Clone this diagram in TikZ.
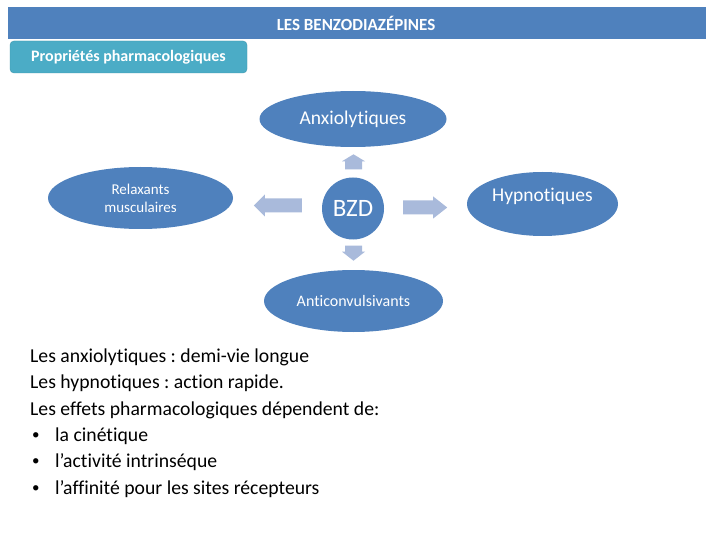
\documentclass[tikz,border=0pt]{standalone}
\usepackage{fontspec}
\setmainfont[Ligatures=NoCommon]{Carlito}
\usetikzlibrary{positioning}
\usetikzlibrary{calc}
\usetikzlibrary{shapes.geometric}
\definecolor{titleblue}{HTML}{4F81BD}
\definecolor{tealbox}{HTML}{4BACC6}
\definecolor{tealborder}{HTML}{3E97AE}
\colorlet{bubble}{titleblue}
\definecolor{arrowfill}{HTML}{A9BADB}
\newcommand\headhalf{11}
\newcommand\shafthalf{7}
\frenchspacing

\begin{document}
\begin{tikzpicture}[x=1pt, y=-1pt]
    \useasboundingbox[fill=white] (0, 0) rectangle (720, 540);

    \tikzset{
        bubble/.style={
            ellipse, fill=bubble, draw=none,
            inner sep=0pt, text=white,
        },
        block arrow/.style={
            fill=arrowfill, draw=none,
        },
        body line/.style={
            anchor=west, inner sep=0pt,
            font=\fontsize{19.7}{20}\selectfont,
        },
    }

    % Header
    \fill[titleblue] (8, 7) rectangle (706, 39);
    \node[text=white, font=\fontsize{17}{17}\selectfont\bfseries]
        (title) at (356, 23) {LES BENZODIAZÉPINES};

    \draw[tealborder, fill=tealbox, rounded corners=4]
        (10, 41) rectangle (247, 73);
    \node[text=white, font=\fontsize{16}{16}\selectfont\bfseries]
        (props) at (128.5, 57) {Propriétés pharmacologiques};

    % Bubbles
    \node[bubble, minimum width=187, minimum height=56,
        font=\fontsize{19.5}{19.5}\selectfont]
        (anxio) at (353, 119) {Anxiolytiques};
    \node[bubble, minimum width=185, minimum height=62,
        font=\fontsize{15}{18}\selectfont, align=center]
        (relax) at (140.5, 198) {Relaxants\\musculaires};
    \node[bubble, circle, minimum size=62,
        font=\fontsize{25}{25}\selectfont]
        (bzd) at (353, 208.5) {BZD};
    \node[bubble, minimum width=151, minimum height=64,
        label={[text=white, yshift=8, font=\fontsize{19.5}{19.5}\selectfont]center:Hypnotiques}]
        (hypno) at (542.5, 204) {};
    \node[bubble, minimum width=179, minimum height=62,
        font=\fontsize{16}{16}\selectfont]
        (anticonv) at (353.5, 301) {Anticonvulsivants};

    % Block arrows
    \coordinate (up-tail) at ($(bzd.north)+(0, -8)$);
    \coordinate (down-tail) at ($(bzd.south)+(0, 6)$);
    \coordinate (left-tail) at ($(bzd.west)+(-20, -3)$);
    \coordinate (right-tail) at ($(bzd.east)+(19, -1)$);

    \fill[block arrow]
        (up-tail) ++(-8, 0)
        -- ++(0, -8) -- ++(-3, 0)
        -- ++(11.5, -7) -- ++(11.5, 7)
        -- ++(-3, 0) -- ++(0, 8) -- cycle;
    \fill[block arrow]
        (down-tail) ++(-8, 0)
        -- ++(0, 6) -- ++(-3, 0)
        -- ++(11.5, 9) -- ++(11.5, -9)
        -- ++(-3, 0) -- ++(0, -6) -- cycle;
    \fill[block arrow]
        (left-tail) ++(0, -\shafthalf)
        -- ++(-37, 0) -- ++(0, -4)
        -- ++(-11, \headhalf) -- ++(11, \headhalf)
        -- ++(0, -4) -- ++(37, 0) -- cycle;
    \fill[block arrow]
        (right-tail) ++(0, -\shafthalf)
        -- ++(30, 0) -- ++(0, -4)
        -- ++(14, \headhalf) -- ++(-14, \headhalf)
        -- ++(0, -4) -- ++(-30, 0) -- cycle;

    % Notes
    \node[body line] (note-1) at (30, 357) {Les anxiolytiques : demi-vie longue};
    \node[body line] (note-2) at (30, 383) {Les hypnotiques : action rapide.};
    \node[body line] (note-3) at (30, 410) {Les effets pharmacologiques dépendent de:};
    \foreach \i/\txt [count=\k from 4] in {436/la cinétique, 462/l’activité intrinséque, 489/l’affinité pour les sites récepteurs} {
        \node[body line, font=\fontsize{15}{15}\selectfont] (bullet-\k) at (32, \i) {\textbullet};
        \node[body line] (note-\k) at (55, \i) {\txt};
    }
\end{tikzpicture}
\end{document}
